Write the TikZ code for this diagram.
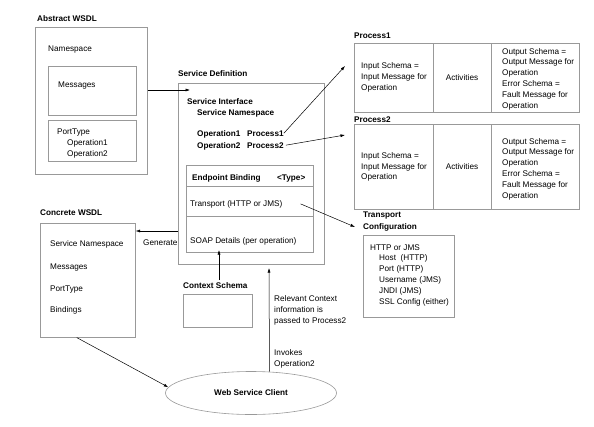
\documentclass[tikz,border=0pt]{standalone}
\usepackage{fontspec}
\setmainfont{Liberation Sans}
\usetikzlibrary{arrows.meta,shapes.geometric}

\begin{document}
\begin{tikzpicture}[x=1pt,y=-1pt]
\tikzset{>={Latex[length=4.5pt,width=3pt]}}
\tikzset{every node/.style={font=\fontsize{8.2}{10.8}\selectfont}}
\tikzset{frame/.style={draw=black!40, line width=0.6pt, anchor=north west, inner sep=0pt}}
\tikzset{rule/.style={draw=black!40, line width=0.6pt}}
\tikzset{txt/.style={anchor=base west, inner sep=0pt}}
\tikzset{head/.style={txt, font=\fontsize{8.2}{10.8}\selectfont\bfseries}}
\tikzset{cell/.style={align=left, inner sep=0pt, anchor=west}}
\tikzset{link/.style={->, line width=0.5pt}}
\useasboundingbox (0,0) rectangle (594,426);

% abstract WSDL
\node[head] at (37,21) {Abstract WSDL};
\node[frame, minimum width=112pt, minimum height=147pt] (abstract) at (35,27) {};
\node[txt] at (48,51) {Namespace};
\node[frame, minimum width=88pt, minimum height=49pt] (messages) at (48,66) {};
\node[txt] at (58,87) {Messages};
\node[frame, minimum width=88pt, minimum height=41pt] (porttype) at (48,120) {};
\node[txt] at (57,134) {PortType};
\node[txt] at (67,145) {Operation1};
\node[txt] at (67,156) {Operation2};

% service definition
\node[head] at (178,76) {Service Definition};
\node[frame, minimum width=146pt, minimum height=181pt] (servdef) at (178,83) {};
\coordinate (sdin) at (190,90);
\node[head] at (187,104) {Service Interface};
\node[head] at (197,115) {Service Namespace};
\node[head] at (197,136) {Operation1};
\node[head] (op1) at (247,136) {Process1};
\node[head] at (197,148) {Operation2};
\node[head] (op2) at (247,148) {Process2};

% endpoint binding
\node[frame, minimum width=127pt, minimum height=87pt] (endpoint) at (186,165) {};
\draw[rule] (186,186) -- (313,186);
\draw[rule] (186,216) -- (313,216);
\node[head] at (192,180) {Endpoint Binding};
\node[head] at (277,180) {<Type>};
\node[txt] (transp) at (190,206) {Transport (HTTP or JMS)};
\node[txt] (soap) at (190,243) {SOAP Details (per operation)};
\coordinate (soapin) at (219,250);

% process 1
\node[head] at (354,38) {Process1};
\node[frame, minimum width=225pt, minimum height=69pt] (proc1) at (354,43) {};
\draw[rule] (433,43) -- (433,112);
\draw[rule] (491,43) -- (491,112);
\node[cell] at (361,77.5) {Input Schema =\\Input Message for\\Operation};
\node at (462,77.5) {Activities};
\node[cell] at (502,79) {Output Schema =\\Output Message for\\Operation\\Error Schema =\\Fault Message for\\Operation};
\coordinate (p1in) at (345,66);

% process 2
\node[head] at (354,122) {Process2};
\node[frame, minimum width=225pt, minimum height=85pt] (proc2) at (354,124) {};
\draw[rule] (433,124) -- (433,209);
\draw[rule] (491,124) -- (491,209);
\node[cell] at (361,167) {Input Schema =\\Input Message for\\Operation};
\node at (462,167) {Activities};
\node[cell] at (502,169) {Output Schema =\\Output Message for\\Operation\\Error Schema =\\Fault Message for\\Operation};
\coordinate (p2in) at (345,135);

% transport configuration
\node[head] at (363,217) {Transport};
\node[head] at (363,229) {Configuration};
\coordinate (tcin) at (355,227);
\node[frame, minimum width=91pt, minimum height=82pt] (tcbox) at (363,235) {};
\node[txt] at (370,250) {HTTP or JMS};
\foreach \t [count=\i] in {Host\ \ (HTTP), Port (HTTP), Username (JMS), JNDI (JMS), SSL Config (either)}
  \node[txt] at (379,250+10.8*\i) {\t};

% concrete WSDL
\node[head] at (40,215) {Concrete WSDL};
\node[frame, minimum width=95pt, minimum height=114pt] (concrete) at (40,223) {};
\node[txt] at (50,246) {Service Namespace};
\node[txt] at (50,269) {Messages};
\node[txt] at (50,291) {PortType};
\node[txt] at (50,312) {Bindings};
\coordinate (gen) at (0,231);
\node[txt] at (143,245) {Generate};

% context schema
\node[head] (ctx) at (183,288) {Context Schema};
\node[frame, minimum width=69pt, minimum height=33pt] (ctxbox) at (183,294) {};
\coordinate (ctxout) at (219,280);

% client
\node[ellipse, draw=black!40, line width=0.6pt, minimum width=171pt, minimum height=43pt,
  font=\fontsize{8.2}{10.8}\selectfont\bfseries] (client) at (251,393) {Web Service Client};
\coordinate (sdout) at (269,268);
\node[txt] at (274,301) {Relevant Context};
\node[txt] at (274,312) {information is};
\node[txt] at (274,323) {passed to Process2};
\node[txt] at (274,355) {Invokes};
\node[txt] at (274,366) {Operation2};

% connectors
\draw[link] (abstract.east |- sdin) -- (sdin);
\draw[link] (op1.east) -- (p1in);
\draw[link] ([xshift=2pt]op2.east) -- (p2in);
\draw[link] ([xshift=18pt]transp.east) -- (tcin);
\draw[link] (servdef.west |- gen) -- (concrete.east |- gen);
\draw[link] (ctxout) -- (soapin);
\draw[link] (client.49) -- (sdout);
\draw[link] ([xshift=-11pt]concrete.south) -- (client.176);
\end{tikzpicture}
\end{document}
